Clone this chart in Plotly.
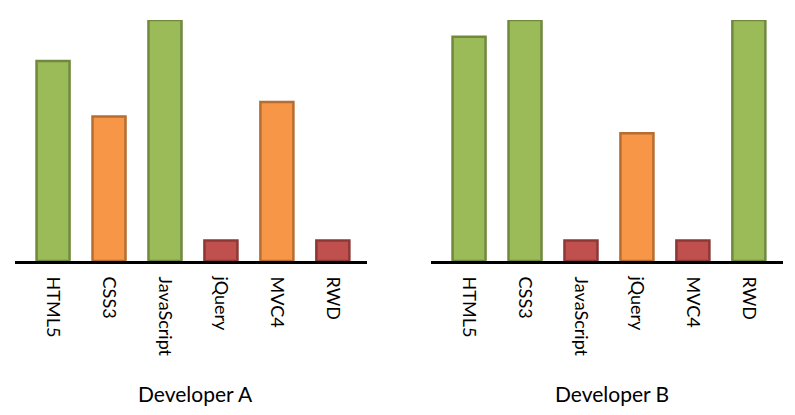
import plotly.graph_objects as go

skills = ["HTML5", "CSS3", "JavaScript", "jQuery", "MVC4", "RWD"]
dev_a = [83, 60, 100, 8.5, 66, 8.5]
dev_b = [93, 100, 8.5, 53, 8.5, 100]
panel_titles = ["Developer A", "Developer B"]

# fill / outline per level (high, mid, low)
FILL = {"high": "#9BBB59", "mid": "#F79646", "low": "#C0504D"}
EDGE = {"high": "#71893F", "mid": "#B66D31", "low": "#8C3836"}

# page body has an 8px margin, so the figure is a bit smaller than the window
W, H, OFF = 787, 407, 8


def level(v):
    if v >= 75:
        return "high"
    if v >= 30:
        return "mid"
    return "low"


def fx(px):
    return (px - OFF) / W


def fy(py):
    return 1 - (py - OFF) / H


fig = go.Figure()

for i, vals in enumerate([dev_a, dev_b]):
    n = "" if i == 0 else "2"
    fig.add_trace(go.Bar(
        x=skills,
        y=vals,
        width=0.59,
        marker=dict(
            color=[FILL[level(v)] for v in vals],
            line=dict(color=[EDGE[level(v)] for v in vals], width=2.5),
        ),
        xaxis="x" + n,
        yaxis="y" + n,
        hoverinfo="skip",
    ))

xcommon = dict(
    type="category",
    range=[-0.68, 5.61],
    showline=True,
    linecolor="black",
    linewidth=3,
    showgrid=False,
    zeroline=False,
    tickangle=90,
    ticks="",
    ticklabelstandoff=9,
    tickfont=dict(family="Lato", size=18, color="black"),
    fixedrange=True,
)
ycommon = dict(
    range=[0, 100],
    domain=[fy(261), fy(20)],
    visible=False,
    fixedrange=True,
)

fig.update_layout(
    width=W,
    height=H,
    margin=dict(l=0, r=0, t=0, b=0),
    paper_bgcolor="white",
    plot_bgcolor="white",
    showlegend=False,
    xaxis=dict(domain=[fx(15), fx(367)], anchor="y", **xcommon),
    xaxis2=dict(domain=[fx(431), fx(783)], anchor="y2", **xcommon),
    yaxis=dict(anchor="x", **ycommon),
    yaxis2=dict(anchor="x2", **ycommon),
)

for i, title in enumerate(panel_titles):
    fig.add_annotation(
        text=title,
        xref="x" if i == 0 else "x2",
        x=2.55,
        yref="paper",
        y=fy(393),
        yanchor="middle",
        showarrow=False,
        font=dict(family="Lato", size=21, color="black"),
    )

fig.write_html("out.html")
